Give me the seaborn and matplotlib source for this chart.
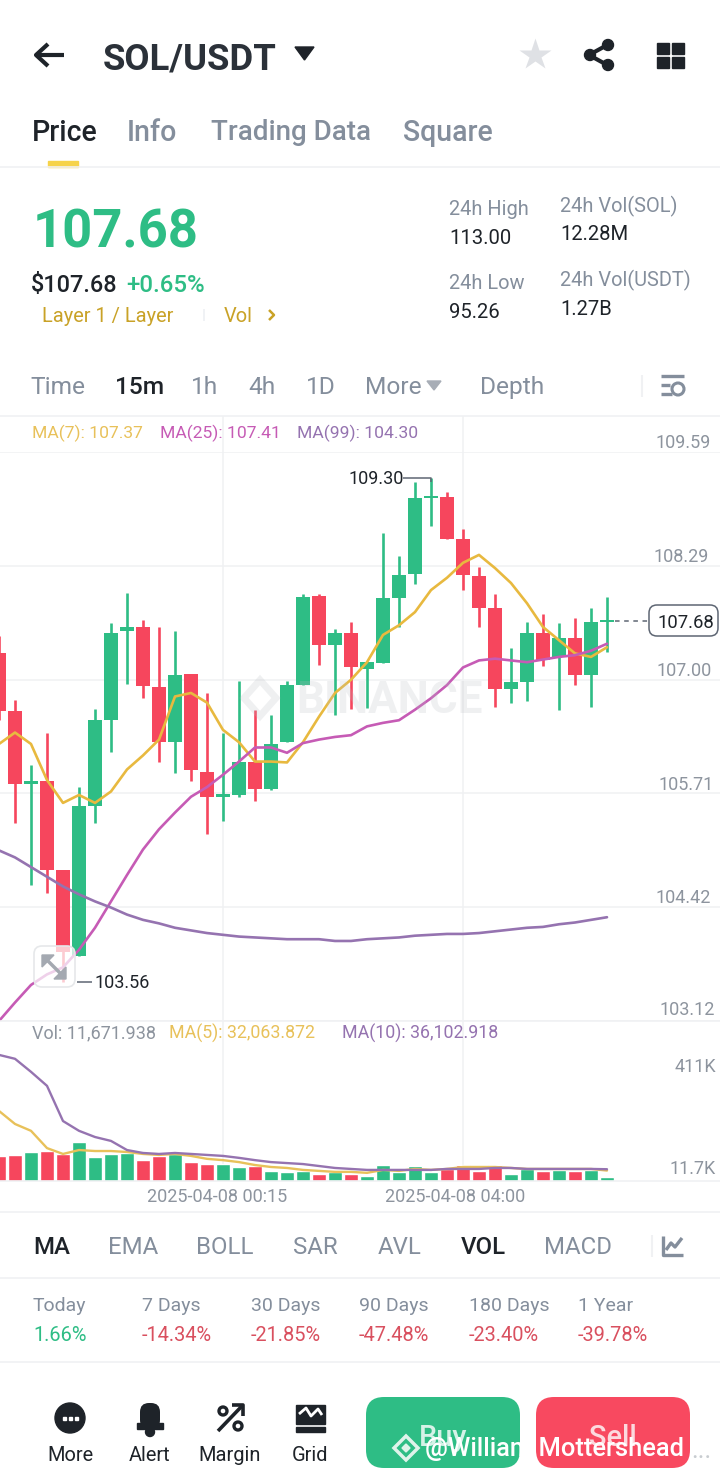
import numpy as np
import seaborn as sns
import matplotlib.pyplot as plt
from matplotlib.patches import FancyBboxPatch, Polygon, Circle, Rectangle

# candles, 15m
opens = [107.31, 106.65, 105.81, 105.85, 104.84, 103.86, 105.56, 106.54, 107.55, 107.60,
         106.92, 106.29, 107.06, 105.95, 105.67, 105.69, 106.07, 105.76, 106.29, 106.94,
         107.95, 107.39, 107.53, 107.12, 107.19, 107.93, 108.20, 109.07, 109.08, 108.60,
         108.18, 107.82, 106.90, 106.98, 107.53, 107.26, 107.48, 107.05, 107.66]
closes = [106.65, 105.81, 105.85, 104.84, 103.90, 105.56, 106.54, 107.53, 107.60, 106.93,
          106.29, 107.05, 105.97, 105.67, 105.70, 106.07, 105.76, 106.27, 106.94, 107.94,
          107.39, 107.53, 107.14, 107.20, 107.93, 108.19, 109.07, 109.09, 108.60, 108.19,
          107.82, 106.90, 106.98, 107.53, 107.23, 107.47, 107.05, 107.66, 107.68]
highs = [107.50, 106.77, 106.03, 106.40, 104.84, 105.78, 106.67, 107.65, 107.99, 107.68,
         107.60, 107.55, 107.07, 106.85, 106.40, 106.99, 106.66, 106.60, 106.99, 107.97,
         107.98, 107.58, 107.66, 107.20, 108.67, 108.41, 109.25, 109.30, 109.14, 108.71,
         108.28, 107.97, 107.36, 107.66, 107.75, 107.65, 107.70, 107.82, 107.94]
lows = [106.54, 105.37, 104.67, 104.57, 103.56, 103.86, 105.37, 106.18, 106.95, 106.79,
        106.07, 105.94, 105.85, 105.25, 105.39, 105.67, 105.62, 105.75, 106.29, 106.94,
        107.17, 106.60, 106.67, 106.68, 107.19, 107.60, 108.09, 108.75, 108.60, 108.02,
        107.60, 106.69, 106.74, 106.76, 107.16, 106.66, 106.94, 106.69, 107.32]

ma7 = [106.27, 106.40, 106.27, 105.86, 105.60, 105.69, 105.60, 105.73, 105.98, 106.14,
       106.32, 106.81, 106.85, 106.74, 106.43, 106.29, 106.07, 106.07, 106.06, 106.29,
       106.58, 106.85, 107.00, 107.20, 107.51, 107.62, 107.77, 108.02, 108.16, 108.33,
       108.42, 108.27, 108.10, 107.87, 107.60, 107.45, 107.30, 107.26, 107.37]
ma25 = [103.12, 103.33, 103.53, 103.65, 103.73, 103.93, 104.18, 104.48, 104.78, 105.07,
        105.30, 105.49, 105.67, 105.78, 105.92, 106.07, 106.23, 106.23, 106.17, 106.28,
        106.32, 106.35, 106.37, 106.47, 106.51, 106.54, 106.66, 106.79, 106.94, 107.14,
        107.22, 107.24, 107.22, 107.20, 107.23, 107.26, 107.28, 107.33, 107.41]
ma99 = [105.06, 104.98, 104.87, 104.76, 104.65, 104.56, 104.48, 104.41, 104.33, 104.27,
        104.23, 104.18, 104.15, 104.12, 104.10, 104.08, 104.07, 104.06, 104.05, 104.05,
        104.05, 104.03, 104.03, 104.05, 104.06, 104.07, 104.09, 104.10, 104.11, 104.11,
        104.12, 104.14, 104.16, 104.18, 104.19, 104.22, 104.24, 104.27, 104.30]

# volume in thousands
volume = [77, 80, 89, 92, 83, 120, 74, 83, 86, 64, 77, 83, 58, 52, 52, 43, 46, 31, 28, 31,
          21, 28, 21, 15, 49, 28, 46, 28, 37, 49, 31, 49, 21, 37, 31, 34, 31, 34, 11.7]
vol_ma5 = [215, 175, 154, 101, 83, 95, 92, 92, 89, 83, 80, 83, 77, 68, 64, 58, 49, 43, 40, 34,
           31, 28, 28, 25, 34, 31, 37, 34, 37, 43, 43, 43, 40, 37, 37, 37, 37, 37, 32.06]
vol_ma10 = [387, 375, 335, 292, 184, 154, 135, 123, 95, 86, 83, 86, 83, 80, 77, 71, 64, 58, 55, 52,
            46, 40, 37, 34, 34, 34, 34, 34, 37, 37, 37, 40, 40, 37, 37, 37, 37, 37, 36.1]

price_ticks = [109.59, 108.29, 107.00, 105.71, 104.42, 103.12]
tick_label_x = [683, 681, 684, 686, 683, 687]
tick_label_y = [442, 556, 670, 784, 897, 1009]

GREEN = "#2ebd85"
RED = "#f6465d"
GOLD = "#e8c15a"
PINK = "#c65bb5"
PURPLE = "#9573b0"
GRID = "#f0f1f3"
GREY = "#848e9c"
DARK = "#1e2329"

sns.set_theme(style="white")
plt.rcParams["font.family"] = ["Roboto", "DejaVu Sans"]

W, H = 720, 1472
fig = plt.figure(figsize=(W / 100, H / 100), dpi=100, facecolor="white")


def pane(top, bottom):
    return fig.add_axes([0, 1 - bottom / H, 1, (bottom - top) / H])


idx = np.arange(len(closes))
colors = [GREEN if c >= o else RED for o, c in zip(opens, closes)]
xlim = (0.0625, 45.0625)  # one candle every 16 px, first one sits just off the left edge

# price pane
ax = pane(452, 1021)
ax.set_facecolor("none")
ax.set_ylim(price_ticks[-1], price_ticks[0])
ax.set_yticks(price_ticks)
ax.set_xticks([14, 29])
ax.grid(True, color=GRID, linewidth=1.1)
ax.vlines(idx, lows, highs, colors=colors, linewidth=1.9, zorder=2)
ax.bar(idx, np.abs(np.array(closes) - np.array(opens)), bottom=np.minimum(opens, closes),
       width=0.86, color=colors, linewidth=0, zorder=3)
sns.lineplot(x=idx, y=ma7, ax=ax, color="#e8b93f", linewidth=1.9, zorder=4)
sns.lineplot(x=idx, y=ma25, ax=ax, color=PINK, linewidth=1.9, zorder=4)
sns.lineplot(x=idx, y=ma99, ax=ax, color=PURPLE, linewidth=1.9, zorder=4)
ax.set_xlim(xlim)
ax.set(xlabel="", ylabel="", xticklabels=[], yticklabels=[])
sns.despine(ax=ax, left=True, bottom=True)

# volume pane, 3.07K per px
vx = pane(1021, 1181)
vx.set_facecolor("none")
sns.barplot(x=idx, y=volume, hue=idx, palette=colors, native_scale=True, dodge=False, width=0.86,
            saturation=1, legend=False, ax=vx, zorder=3)
sns.lineplot(x=idx, y=vol_ma5, ax=vx, color="#e8c15a", linewidth=1.7, zorder=4)
sns.lineplot(x=idx, y=vol_ma10, ax=vx, color=PURPLE, linewidth=1.7, zorder=4)
vx.set_xlim(xlim)
vx.set_ylim(0, 491)
vx.set_xticks([14, 29])
vx.set_yticks([])
vx.grid(True, axis="x", color=GRID, linewidth=1.1)
vx.set_axisbelow(True)
vx.set(xlabel="", ylabel="", xticklabels=[])
sns.despine(ax=vx, left=True, bottom=True)

# everything around the chart, in screen px
ui = fig.add_axes([0, 0, 1, 1], zorder=10)
ui.set_xlim(0, W)
ui.set_ylim(H, 0)
ui.axis("off")
ui.patch.set_alpha(0)


def txt(x, y, s, size=20, color=GREY, weight="normal", ha="left", **kw):
    return ui.text(x, y + 0.065 * size, s, fontsize=size * 0.72, color=color, fontweight=weight, ha=ha,
                   va="center", **kw)


def line(xs, ys, color=DARK, lw=1.0, **kw):
    ui.plot(xs, ys, color=color, lw=lw, solid_capstyle="butt", **kw)


for y in [167, 416, 1021, 1181, 1212, 1278, 1362]:
    line([0, W], [y, y], GRID, 1.2)
line([223, 223], [416, 452], GRID, 1.1)
line([463, 463], [416, 452], GRID, 1.1)

# header
line([36, 64], [55, 55], DARK, 3)
line([48, 36, 48], [44, 55, 66], DARK, 3)
txt(103, 57, "SOL/USDT", 36.5, "#2b3139", "bold")
ui.add_patch(Polygon([[295, 47], [314, 47], [304.5, 60]], color=DARK))
ui.plot(535, 55, marker="*", ms=24, color="#dfe1e5", mec="none")
for a, b in [((589, 55), (609, 44)), ((589, 55), (609, 66))]:
    line([a[0], b[0]], [a[1], b[1]], DARK, 3)
for cx, cy in [(590, 55), (608, 45), (608, 65)]:
    ui.add_patch(Circle((cx, cy), 5.5, color=DARK))
for cx, cy in [(657, 43), (672, 43), (657, 57), (672, 57)]:
    ui.add_patch(Rectangle((cx, cy), 12, 11, color=DARK))

txt(32, 131, "Price", 28.5, DARK, 500)
txt(127, 131, "Info", 28.5, GREY, 500)
txt(211, 131, "Trading Data", 27.8, GREY, 500)
txt(403, 131, "Square", 28.5, GREY, 500)
ui.add_patch(Rectangle((48, 161), 30, 6, color="#f6d34a"))

# price summary
txt(33, 230, "107.68", 52.5, GREEN, "bold")
txt(31, 284, "$107.68", 23.5, DARK, 500)
txt(126, 284, "+0.65%", 24, GREEN, 500)
txt(42, 315, "Layer 1 / Layer", 20, "#c9a227")
line([204, 204], [309, 321], "#eef0f3", 1.2)
txt(224, 315, "Vol", 20, "#c9a227")
line([269, 274, 269], [310, 315, 320], "#c9a227", 1.8)
txt(449, 208, "24h High", 20)
txt(449, 237, "113.00", 20.3, DARK)
txt(560, 205, "24h Vol(SOL)", 20)
txt(560, 233, "12.28M", 20.3, DARK)
txt(449, 282, "24h Low", 20)
txt(449, 311, "95.26", 20.3, DARK)
txt(560, 279, "24h Vol(USDT)", 20)
txt(560, 308, "1.27B", 20.3, DARK)

# timeframes
for x, s in [(30, "Time"), (191, "1h"), (248, "4h"), (306, "1D"), (365, "More"), (480, "Depth")]:
    txt(x, 386, s, 24.5)
txt(115, 386, "15m", 24.5, DARK, 500)
ui.add_patch(Polygon([[427, 381], [441, 381], [434, 390]], color="#a7adb6"))
line([642, 642], [375, 397], GRID, 1.5)
for y, x0, x1 in [(376, 661, 684), (385, 661, 670), (394, 661, 672)]:
    line([x0, x1], [y, y], GREY, 2.4)
ui.add_patch(Circle((678, 389), 6, fc="white", ec=GREY, lw=2.2))

# chart labels
txt(32, 432, "MA(7): 107.37", 17.5, GOLD)
txt(160, 432, "MA(25): 107.41", 17.5, PINK)
txt(297, 432, "MA(99): 104.30", 17.5, PURPLE)
for lx, ly, v in zip(tick_label_x, tick_label_y, price_ticks):
    txt(lx, ly, f"{v:.2f}", 18, "#8d949e", ha="center")
txt(348, 478, "109.30", 18, DARK)
line([403, 431, 431], [478, 478, 482], "#5e6673", 1.1)
txt(94, 982, "103.56", 18, DARK)
line([77, 92], [982, 982], "#5e6673", 1.1)
line([615, 648], [620.5, 620.5], "#5e6673", 1.1, ls=(0, (3, 3)))
ui.add_patch(FancyBboxPatch((649, 605), 69, 31, boxstyle="round,pad=0,rounding_size=8", fc="white", ec="#5e6673", lw=1.1))
txt(686, 622, "107.68", 18.5, DARK, ha="center")

# binance watermark
txt(296, 698, "BINANCE", 44, "#b8bcc2", "bold", alpha=0.22)
ui.add_patch(Polygon([[260, 680], [276, 698], [260, 716], [244, 698]], fc="none", ec="#b8bcc2", lw=5, alpha=0.22))

# expand button
ui.add_patch(FancyBboxPatch((34, 946), 41, 41, boxstyle="round,pad=0,rounding_size=8", fc=(1, 1, 1, 0.72), ec="#e6e8ea", lw=1.2))
ui.add_patch(Polygon([[42, 955], [54, 955], [42, 967]], color="#a4a9b1"))
ui.add_patch(Polygon([[66, 979], [54, 979], [66, 967]], color="#a4a9b1"))
line([46, 62], [959, 975], "#a4a9b1", 2.5)

# volume labels
txt(32, 1032, "Vol: 11,671.938", 18, "#8d949e")
txt(169, 1032, "MA(5): 32,063.872", 17.8, GOLD)
txt(342, 1032, "MA(10): 36,102.918", 17.8, PURPLE)
txt(716, 1066, "411K", 18, "#8d949e", ha="right")
txt(716, 1168, "11.7K", 18, "#8d949e", ha="right")
txt(147, 1196, "2025-04-08 00:15", 18, "#8d949e")
txt(385, 1196, "2025-04-08 04:00", 18, "#8d949e")

# indicator tabs
for x, s, on in [(33, "MA", True), (108, "EMA", False), (196, "BOLL", False), (293, "SAR", False),
                 (378, "AVL", False), (461, "VOL", True), (544, "MACD", False)]:
    txt(x, 1246, s, 24, DARK if on else GREY, 500 if on else "normal")
line([652, 652], [1235, 1257], GRID, 1.5)
line([663, 663, 683], [1236, 1255, 1255], GREY, 2.4)
line([666, 671, 675, 682], [1250, 1243, 1247, 1238], GREY, 2.4)

# period returns
periods = ["Today", "7 Days", "30 Days", "90 Days", "180 Days", "1 Year"]
returns = ["1.66%", "-14.34%", "-21.85%", "-47.48%", "-23.40%", "-39.78%"]
period_x = [33, 142, 251, 359, 469, 578]
for x, p, r in zip(period_x, periods, returns):
    txt(x, 1305, p, 19.5)
    txt(x, 1334, r, 20, GREEN if r[0] != "-" else "#d9505f")

# bottom bar
for x, s in [(70, "More"), (150, "Alert"), (230, "Margin"), (310, "Grid")]:
    txt(x, 1454, s, 20, DARK, ha="center")
ui.add_patch(Circle((70, 1418), 15, color=DARK))
for dx in [-6, 0, 6]:
    ui.add_patch(Rectangle((70 + dx - 1.5, 1416.5), 3, 3, color="white"))
ui.add_patch(FancyBboxPatch((140, 1403), 20, 26, boxstyle="round,pad=0,rounding_size=9", fc=DARK, ec="none"))
ui.add_patch(Rectangle((137, 1423), 26, 6, color=DARK))
ui.add_patch(Circle((150, 1432), 4.5, color=DARK))
line([218, 242], [1431, 1406], DARK, 2.6)
line([232, 243, 243], [1405, 1405, 1416], DARK, 2.6)
ui.add_patch(Circle((223, 1411), 4, fc="white", ec=DARK, lw=2.4))
ui.add_patch(Circle((238, 1426), 4, fc="white", ec=DARK, lw=2.4))
ui.add_patch(Polygon([[296, 1405], [325, 1405], [325, 1424], [296, 1424]], color=DARK))
line([299, 306, 311, 318, 322], [1414, 1408, 1416, 1409, 1415], "white", 2)
ui.add_patch(Rectangle((296, 1427), 29, 5, color=DARK))

ui.add_patch(FancyBboxPatch((366, 1397), 154, 71, boxstyle="round,pad=0,rounding_size=18", fc=GREEN, ec="none"))
ui.add_patch(FancyBboxPatch((536, 1397), 154, 71, boxstyle="round,pad=0,rounding_size=18", fc="#f84960", ec="none"))
txt(443, 1436, "Buy", 29, "#d5f2e7", 500, ha="center")
txt(613, 1436, "Sell", 29, "#fcd9de", 500, ha="center")

# video watermark
ui.add_patch(Polygon([[406, 1436], [418, 1448], [406, 1460], [394, 1448]], fc="none", ec="#dff3ea", lw=2.5))
ui.add_patch(Polygon([[406, 1444], [410, 1448], [406, 1452], [402, 1448]], color="#dff3ea"))
txt(425, 1447, "@William Mottershead", 25.5, "white", 500)
txt(691, 1449, "...", 25.5, "#c8ccd0")

fig.savefig("out.png", dpi=100, facecolor="white")
